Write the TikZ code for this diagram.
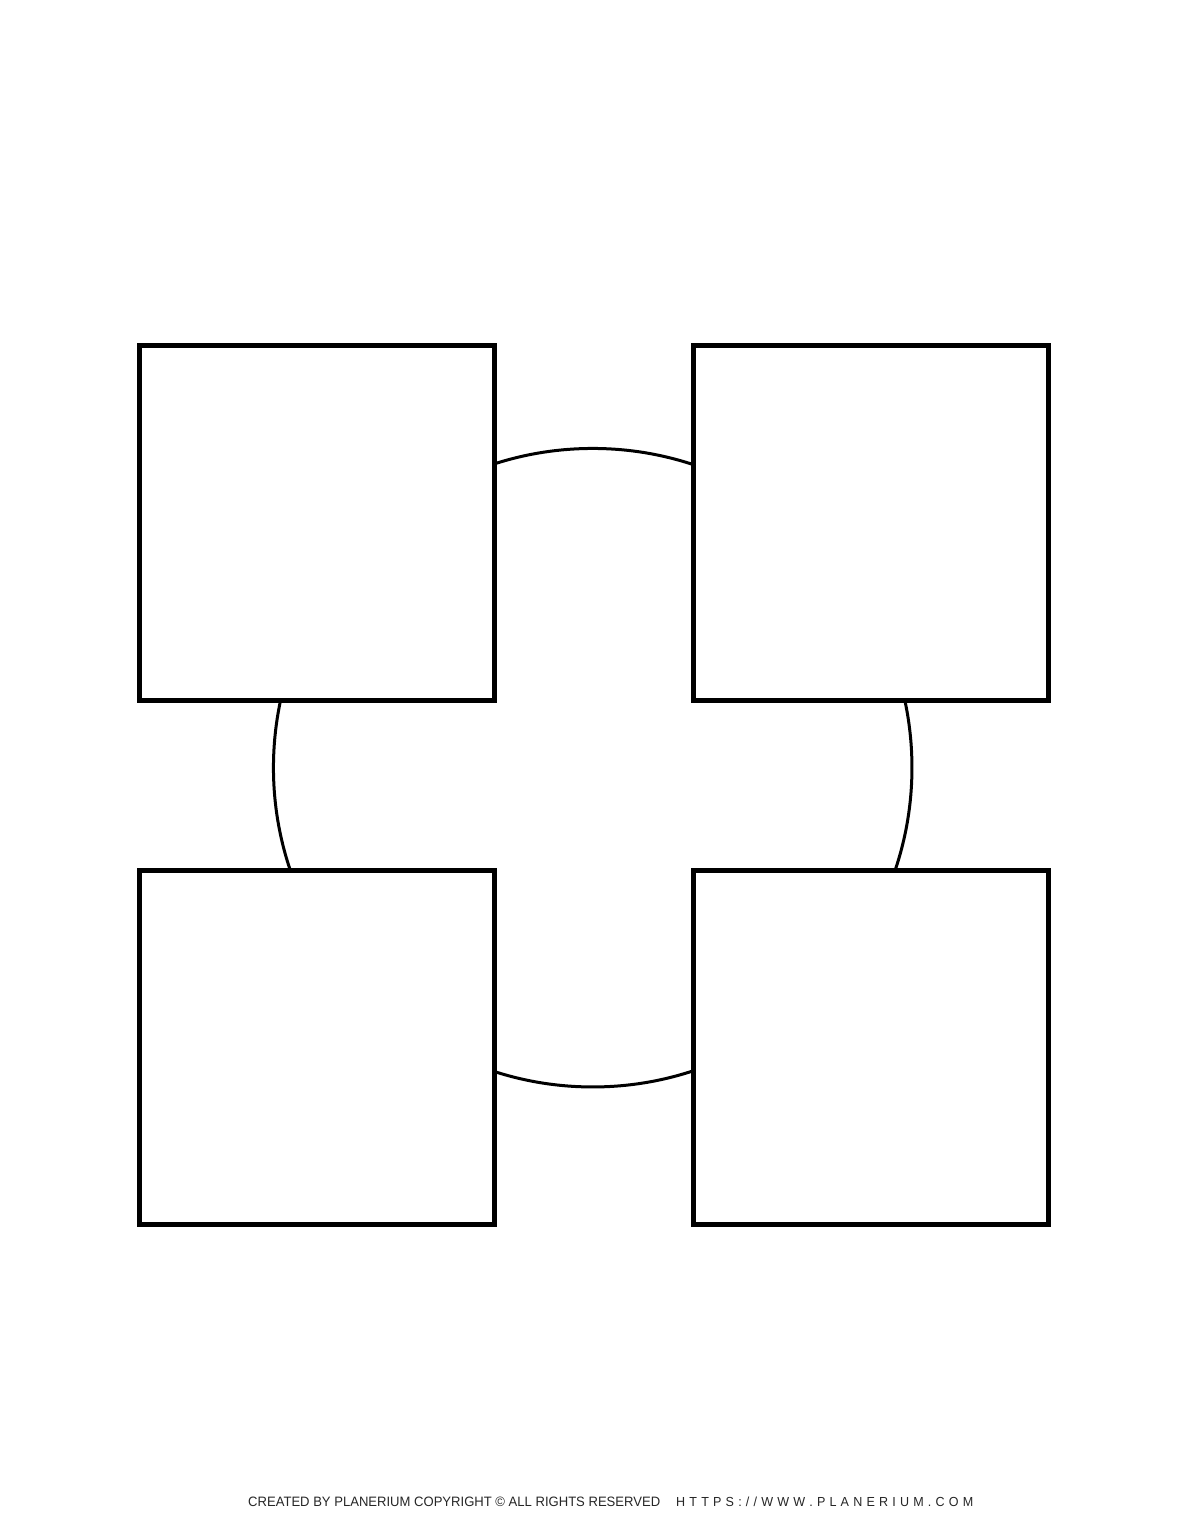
\documentclass[tikz,border=0pt]{standalone}
\usepackage{fontspec}
\setmainfont{Liberation Sans}
\usepackage{graphicx}
\begin{document}
\begin{tikzpicture}[x=1pt,y=-1pt,
  sq/.style={draw=black, fill=white, line width=5.3pt, rectangle, inner sep=0pt, minimum width=355pt, minimum height=354.5pt},
  ring/.style={draw=black, line width=3pt, circle, inner sep=0pt, minimum size=638.5pt},
  foot/.style={inner sep=0pt, anchor=base west, text=black!85}]
\useasboundingbox[fill=white] (0,0) rectangle (1187,1536);
\node[ring] (c) at (592.7,767.7) {};
\node[sq] (tl) at (317,523) {};
\node[sq] (tr) at (871.25,523) {};
\node[sq] (bl) at (316.75,1047.5) {};
\node[sq] (br) at (871.25,1047.5) {};
\node[foot] (credit) at (248,1506) {\resizebox{412pt}{9.5pt}{CREATED BY PLANERIUM COPYRIGHT \textcopyright{} ALL RIGHTS RESERVED}};
\node[foot] (url) at (676,1506) {\resizebox{297pt}{9.5pt}{H\,\,T\,\,T\,\,P\,\,S\,\,:\,\,/\,\,/\,\,W\,\,W\,\,W\,\,.\,\,P\,\,L\,\,A\,\,N\,\,E\,\,R\,\,I\,\,U\,\,M\,\,.\,\,C\,\,O\,\,M}};
\end{tikzpicture}
\end{document}
